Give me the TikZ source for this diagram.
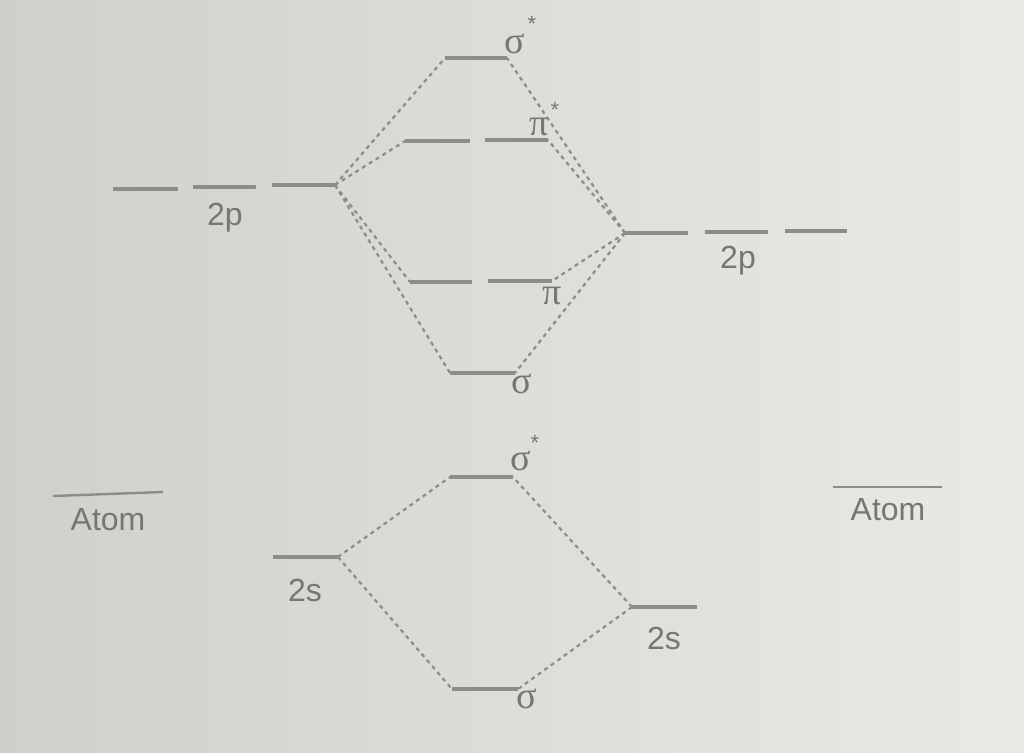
\documentclass[tikz,border=0pt]{standalone}
\usepackage{fontspec}
\setmainfont{Liberation Sans}
\newfontfamily\greekfont{Liberation Serif}
\definecolor{bgL}{RGB}{208,208,202}
\definecolor{bgR}{RGB}{235,233,230}
\definecolor{lev}{RGB}{140,140,140}
\definecolor{txt}{RGB}{118,118,118}
\tikzset{
  level/.style={draw=lev, line width=2.2pt},
  link/.style={draw=lev, line width=1.1pt, dash pattern=on 2pt off 2pt},
  lab/.style={text=txt, font=\fontsize{16}{18}\selectfont, inner sep=0pt},
  glab/.style={text=txt, font=\greekfont\fontsize{19}{21}\selectfont, inner sep=0pt},
  star/.style={text=txt, font=\fontsize{11}{12}\selectfont, inner sep=0pt},
}
\begin{document}
\begin{tikzpicture}[x=0.5pt,y=-0.5pt]
\useasboundingbox (0,0) rectangle (1024,752);
\shade[left color=bgL, right color=bgR] (0,0) rectangle (1024,752);
% coordinates
\coordinate (La1) at (113,189); \coordinate (La2) at (178,189);
\coordinate (Lb1) at (193,187); \coordinate (Lb2) at (256,187);
\coordinate (Lc1) at (272,185); \coordinate (Lc2) at (335,185);
\coordinate (Ra1) at (625,233); \coordinate (Ra2) at (688,233);
\coordinate (Rb1) at (705,232); \coordinate (Rb2) at (768,232);
\coordinate (Rc1) at (785,231); \coordinate (Rc2) at (847,231);
\coordinate (S2l) at (445,58);  \coordinate (S2r) at (507,58);
\coordinate (P2l) at (405,141); \coordinate (P2m) at (470,141);
\coordinate (P2n) at (485,140); \coordinate (P2r) at (548,140);
\coordinate (P1l) at (410,282); \coordinate (P1m) at (472,282);
\coordinate (P1n) at (488,281); \coordinate (P1r) at (552,281);
\coordinate (S1l) at (450,373); \coordinate (S1r) at (515,373);
\coordinate (SSl) at (450,477); \coordinate (SSr) at (513,477);
\coordinate (LSl) at (273,557); \coordinate (LSr) at (338,557);
\coordinate (RSl) at (632,607); \coordinate (RSr) at (697,607);
\coordinate (SBl) at (452,689); \coordinate (SBr) at (518,689);
\coordinate (AL1) at (53,496); \coordinate (AL2) at (163,492);
\coordinate (AR1) at (833,487); \coordinate (AR2) at (942,487);
% levels
\draw[level] (La1) -- (La2); \draw[level] (Lb1) -- (Lb2); \draw[level] (Lc1) -- (Lc2);
\draw[level] (Ra1) -- (Ra2); \draw[level] (Rb1) -- (Rb2); \draw[level] (Rc1) -- (Rc2);
\draw[level] (S2l) -- (S2r);
\draw[level] (P2l) -- (P2m); \draw[level] (P2n) -- (P2r);
\draw[level] (P1l) -- (P1m); \draw[level] (P1n) -- (P1r);
\draw[level] (S1l) -- (S1r);
\draw[level] (SSl) -- (SSr);
\draw[level] (LSl) -- (LSr);
\draw[level] (RSl) -- (RSr);
\draw[level] (SBl) -- (SBr);
\draw[draw=lev, line width=1.2pt] (AL1) -- (AL2);
\draw[draw=lev, line width=1.2pt] (AR1) -- (AR2);
% connectors
\draw[link] (Lc2) -- (S2l); \draw[link] (Lc2) -- (P2l);
\draw[link] (Lc2) -- (P1l); \draw[link] (Lc2) -- (S1l);
\draw[link] (Ra1) -- (S2r); \draw[link] (Ra1) -- (P2r);
\draw[link] (Ra1) -- (P1r); \draw[link] (Ra1) -- (S1r);
\draw[link] (LSr) -- (SSl); \draw[link] (LSr) -- (SBl);
\draw[link] (RSl) -- (SSr); \draw[link] (RSl) -- (SBr);
% labels
\node[lab] (t2pL) at (225,218) {2p};
\node[lab] (t2pR) at (738,261) {2p};
\node[lab] (t2sL) at (305,590) {2s};
\node[lab] (t2sR) at (664,638) {2s};
\node[lab] (atL) at (108,520) {Atom};
\node[lab] (atR) at (888,510) {Atom};
\node[glab] (gS2) at (515,44) {σ}; \node[star] (sS2) at (532,24) {*};
\node[glab] (gP2) at (539,127) {π}; \node[star] (sP2) at (555,110) {*};
\node[glab] (gP1) at (552,296) {π};
\node[glab] (gS1) at (522,384) {σ};
\node[glab] (gSS) at (521,461) {σ}; \node[star] (sSS) at (535,443) {*};
\node[glab] (gSB) at (527,699) {σ};
\end{tikzpicture}
\end{document}
